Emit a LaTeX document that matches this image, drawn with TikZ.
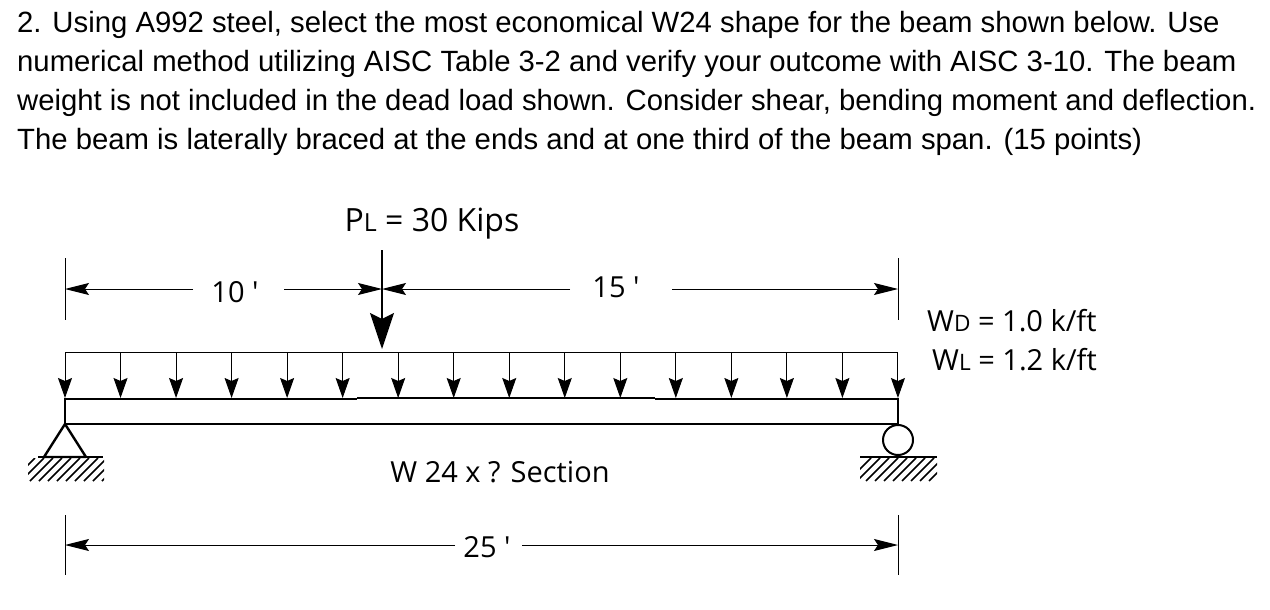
\documentclass[tikz,border=0pt]{standalone}
\usepackage{fontspec}
\setmainfont{Liberation Sans}
\newfontfamily\osans{Open Sans}
\usetikzlibrary{arrows.meta}
\newcommand{\smc}[1]{{\fontsize{0.78em}{1em}\selectfont #1}}
\begin{document}
\begin{tikzpicture}[x=1pt,y=-1pt,
  dim/.style={line width=1pt,-{Stealth[length=24pt,width=12pt,inset=4pt]}},
  load/.style={line width=1pt,-{Stealth[length=20pt,width=14pt,inset=3pt]}},
  lbl/.style={font=\osans\fontsize{32}{34}\selectfont,inner sep=0pt},
  sl/.style={font=\osans\fontsize{29}{32}\selectfont,inner sep=0pt},
  dl/.style={font=\osans\fontsize{29}{32}\selectfont,inner sep=0pt},
  ttl/.style={font=\fontsize{29.3}{39}\selectfont,anchor=north west,align=left,inner sep=0pt}]
\useasboundingbox (0,0) rectangle (1270,610);
\node[ttl] (title) at (17,11) {2. Using A992 steel, select the most economical W24 shape for the beam shown below. Use\\numerical method utilizing AISC Table 3-2 and verify your outcome with AISC 3-10. The beam\\weight is not included in the dead load shown. Consider shear, bending moment and deflection.\\The beam is laterally braced at the ends and at one third of the beam span. (15 points)};
\node[lbl] (pl) at (432,224) {P\smc{L} = 30 Kips};
\node[dl] (d10) at (235,292) {10 '};
\node[dl] (d15) at (616,287) {15 '};
\node[dl] (d25) at (487,547) {25 '};
\node[dl,anchor=west] (wd) at (927,321) {W\smc{D} = 1.0 k/ft};
\node[dl,anchor=west] (wl) at (932,360) {W\smc{L} = 1.2 k/ft};
\node[sl] (sec) at (500,472) {W 24 x ? Section};
\coordinate (L) at (65,289); \coordinate (P) at (382,289); \coordinate (R) at (898,289);
\coordinate (BL) at (65,545); \coordinate (BR) at (898,545);
\coordinate (a1) at (193,289); \coordinate (a2) at (284,289);
\coordinate (a3) at (570,289); \coordinate (a4) at (672,289);
\coordinate (a5) at (455,545); \coordinate (a6) at (522,545);
\draw[line width=1pt] (65,258) -- (65,320) (898,258) -- (898,320) (65,515) -- (65,575) (898,515) -- (898,575);
\draw[dim] (a1) -- (L);
\draw[dim] (a2) -- (P);
\draw[dim] (a3) -- (P);
\draw[dim] (a4) -- (R);
\draw[dim] (a5) -- (BL);
\draw[dim] (a6) -- (BR);
\coordinate (ptop) at (382,250);
\coordinate (pbot) at (382,349);
\draw[line width=1.6pt,-{Stealth[length=36pt,width=24pt,inset=6pt]}] (ptop) -- (pbot);
\draw[line width=1pt] (65,352) -- (898,352);
\foreach \i in {0,...,15} {
  \draw[load] ({65+\i*55.53},352) -- ({65+\i*55.53},398);
}
\draw[line width=2.4pt] (65,399) -- (357,399);
\draw[line width=2.4pt] (357,398) -- (655,398);
\draw[line width=2.4pt] (655,399) -- (898,399);
\draw[line width=2pt] (65,424) -- (898,424) (65,398) -- (65,424) (898,398) -- (898,424);
\draw[line width=2.4pt,line join=round] (65,424) -- (44,457) -- (86,457) -- cycle;
\draw[line width=2pt] (38,457) -- (103,457);
\begin{scope}
\clip (28,458) rectangle (104,481);
\foreach \k in {0,...,10} \draw[line width=1.5pt] ({12+\k*9},481) -- ({35+\k*9},458);
\end{scope}
\draw[line width=2pt] (898,440) circle (15);
\draw[line width=2pt] (860,457) -- (937,457);
\begin{scope}
\clip (860,458) rectangle (937,481);
\foreach \k in {0,...,10} \draw[line width=1.5pt] ({848+\k*9},481) -- ({871+\k*9},458);
\end{scope}
\end{tikzpicture}
\end{document}
